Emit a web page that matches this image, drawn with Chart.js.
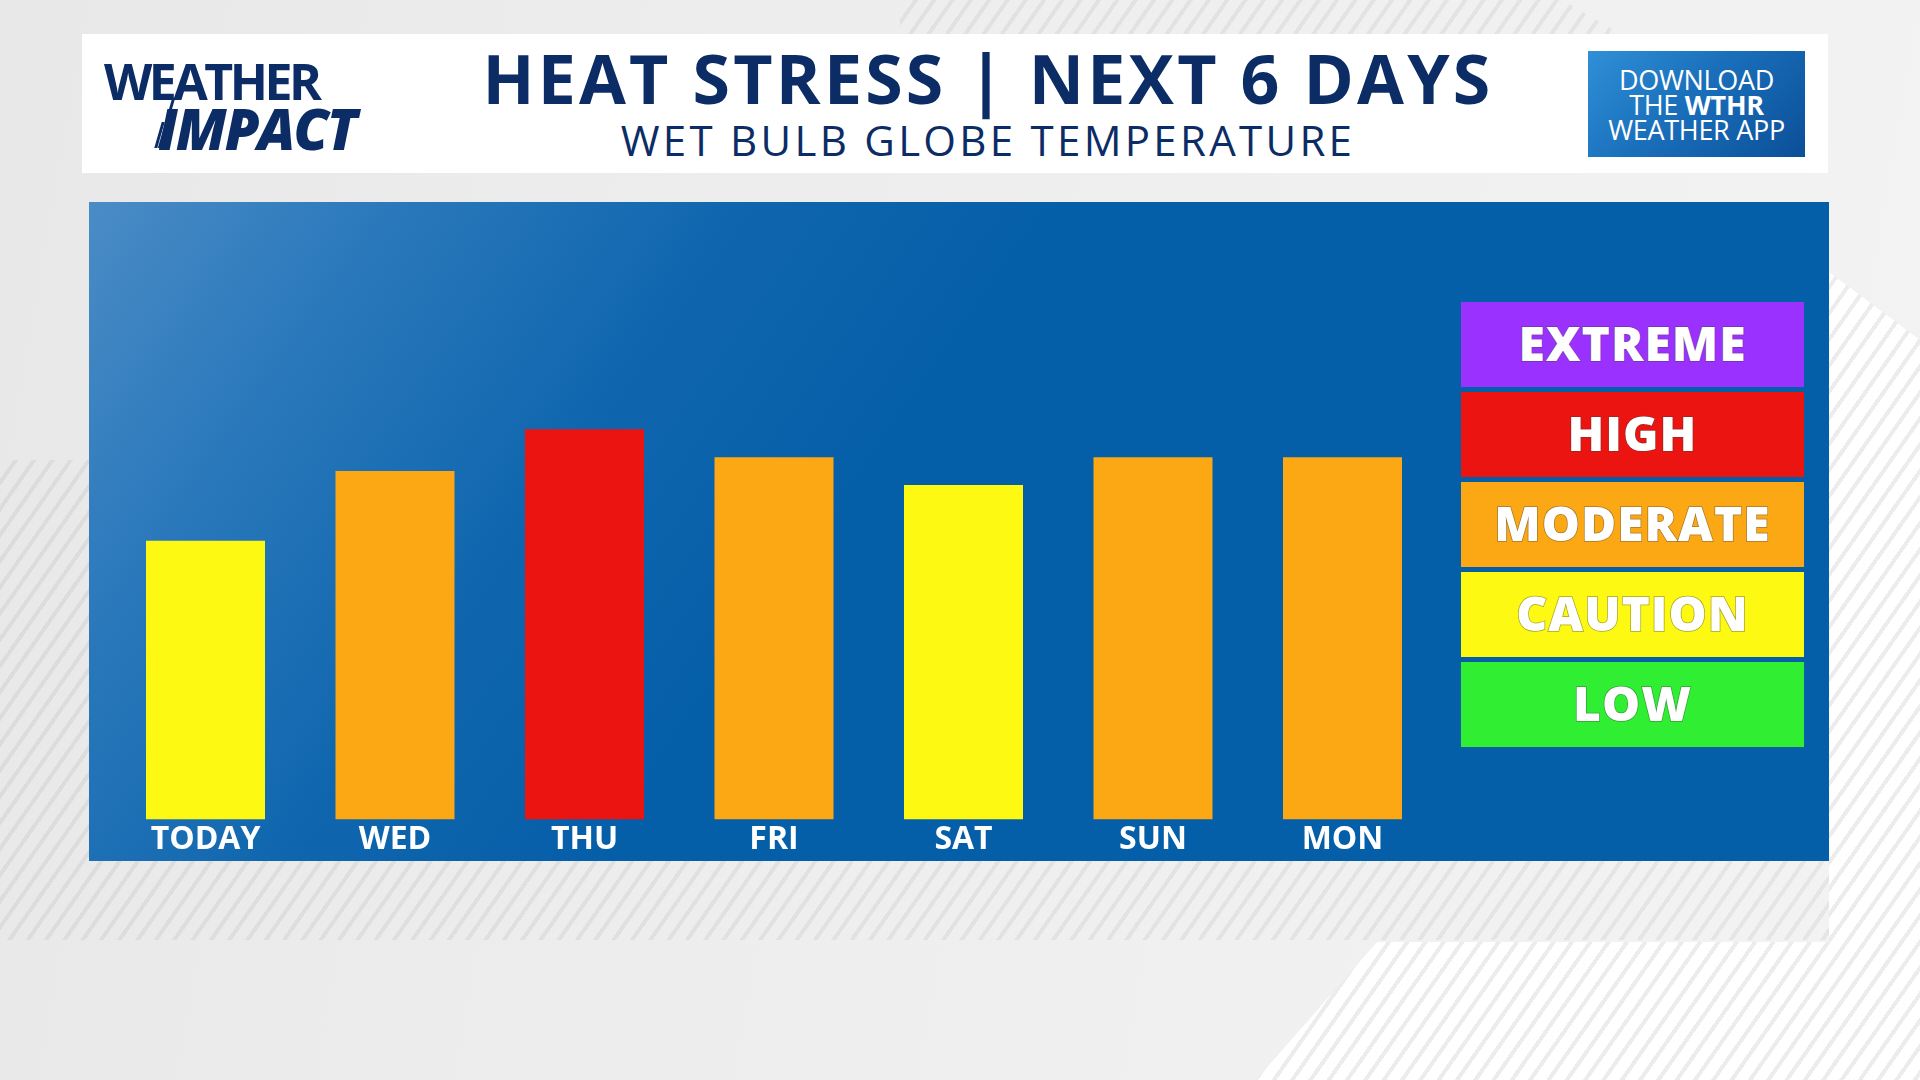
<!DOCTYPE html>
<html>
<head>
<meta charset="utf-8">
<script src="https://cdn.jsdelivr.net/npm/chart.js@4"></script>
<style>
  html, body { margin:0; padding:0; }
  body { width:1920px; height:1080px; position:relative; overflow:hidden;
    background: linear-gradient(100deg, #e8e8e8 0%, #eeeeee 45%, #f3f3f3 100%);
    font-family: "Open Sans", sans-serif; }
  .layer { position:absolute; }
  .stripes { background: repeating-linear-gradient(125deg, rgba(0,0,0,0) 0px, rgba(0,0,0,0) 11px, rgba(0,0,0,0.055) 11px, rgba(0,0,0,0.055) 15px); }
  #header { position:absolute; left:82px; top:34px; width:1746px; height:139px; background:#ffffff; }
  #panel { position:absolute; left:89px; top:202px; width:1740px; height:659px;
    background: linear-gradient(125deg, #4a8cc6 0%, #2a78bb 14%, #0f66ae 30%, #055ea8 45%, #055ea8 100%); }
  #chart { position:absolute; left:0; top:0; }
  .title { position:absolute; left:0; width:1976px; text-align:center; color:#0c2c66; white-space:nowrap; }
  #t1 { top:31px; font-size:68px; font-weight:700; letter-spacing:3.2px; }
  #t2 { top:111px; font-size:42px; font-weight:400; letter-spacing:3.3px; }
  #badge { position:absolute; left:1588px; top:51px; width:217px; height:106px;
    background: linear-gradient(135deg, #2f90d6 0%, #1a6fbb 45%, #0b4f98 100%); color:#fff; text-align:center; }
  #badge div { position:absolute; left:0; width:217px; font-size:27px; line-height:26px; white-space:nowrap; letter-spacing:-0.3px; }
  .lvl { position:absolute; left:1461px; width:343px; height:85px; text-align:center; color:#fff;
    font-family: "Open Sans", sans-serif; font-weight:800; font-size:48px; line-height:81px; letter-spacing:1px;
    -webkit-text-stroke: 1.5px rgba(60,60,60,0.45); paint-order: stroke fill; }
  #logo1 { position:absolute; left:104px; top:47px; font-size:50px; font-weight:700; color:#0c2c66; letter-spacing:-3.5px; font-family:"Open Sans", sans-serif; }
  #logo2 { position:absolute; left:158px; top:90px; font-size:56px; font-weight:800; font-style:italic; color:#0c2c66; letter-spacing:-2px; font-family:"Open Sans", sans-serif; }
  .slash { position:absolute; width:3px; background:#0c2c66; transform: skewX(-16deg); }
</style>
</head>
<body>
<div class="layer stripes" style="left:900px; top:0; width:720px; height:34px; clip-path: polygon(0 0, 92% 0, 100% 100%, 0 100%);"></div>
<div class="layer stripes" style="left:0; top:460px; width:1920px; height:480px;"></div>
<div class="layer" style="left:0; top:0; width:1920px; height:1080px; background: repeating-linear-gradient(125deg, #ffffff 0px, #ffffff 11px, #ececec 11px, #ececec 15px); clip-path: polygon(1256px 1080px, 1377px 942px, 1829px 942px, 1829px 272px, 1920px 340px, 1920px 1080px);"></div>

<div id="header"></div>
<div id="logo1">WEATHER</div>
<div id="logo2">IMPACT</div>
<div class="slash" style="left:165px; top:98px; height:50px;"></div>
<div class="slash" style="left:158px; top:122px; height:26px;"></div>
<div class="title" id="t1">HEAT STRESS | NEXT 6 DAYS</div>
<div class="title" id="t2">WET BULB GLOBE TEMPERATURE</div>
<div id="badge">
  <div style="top:16px;">DOWNLOAD</div>
  <div style="top:41px;">THE <b>WTHR</b></div>
  <div style="top:66px;">WEATHER APP</div>
</div>

<div id="panel"><canvas id="chart" width="1740" height="659"></canvas></div>
<div id="legend"></div>

<script>
// ---- data ----
const days = ['TODAY', 'WED', 'THU', 'FRI', 'SAT', 'SUN', 'MON'];
const wbgt = [80, 86, 89.6, 87.2, 84.8, 87.2, 87.2];
const dayLevels = ['CAUTION', 'MODERATE', 'HIGH', 'MODERATE', 'CAUTION', 'MODERATE', 'MODERATE'];
const levels = ['EXTREME', 'HIGH', 'MODERATE', 'CAUTION', 'LOW'];
const levelColors = ['#9b31fe', '#ec1410', '#fca815', '#fdf912', '#30ef33'];

// ---- legend boxes ----
const legend = document.getElementById('legend');
levels.forEach((name, i) => {
  const d = document.createElement('div');
  d.className = 'lvl';
  d.style.top = (302 + i * 90) + 'px';
  d.style.background = levelColors[i];
  d.textContent = name;
  legend.appendChild(d);
});

const barColors = dayLevels.map(l => levelColors[levels.indexOf(l)]);

new Chart(document.getElementById('chart'), {
  type: 'bar',
  data: {
    labels: days,
    datasets: [{
      data: wbgt,
      backgroundColor: barColors,
      borderWidth: 0,
      barPercentage: 1.0,
      categoryPercentage: 0.628
    }]
  },
  options: {
    responsive: false,
    animation: false,
    devicePixelRatio: 1,
    layout: { padding: { left: 21.75, right: 391.75, top: 106.6, bottom: 1 } },
    plugins: { legend: { display: false }, tooltip: { enabled: false } },
    scales: {
      y: { display: false, min: 56, max: 100 },
      x: {
        grid: { display: false, drawTicks: false },
        border: { display: false },
        ticks: {
          color: '#ffffff',
          padding: 2,
          font: { family: 'Open Sans', weight: '700', size: 32, lineHeight: 1.15 }
        }
      }
    }
  }
});
</script>
</body>
</html>
